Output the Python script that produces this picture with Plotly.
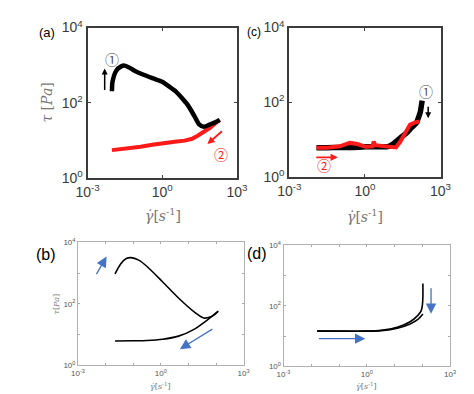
import plotly.graph_objects as go

# ---------------- data ----------------
# (a) experiment: ramp up (black) and ramp down (red)
a_up_rate = [0.00955, 0.01, 0.0141, 0.0224, 0.0309, 0.0501, 0.0741, 0.158, 0.427, 1.0, 1.86, 3.55, 6.03, 10, 14.5, 22.4, 30.2, 46.8, 83.2, 126, 204]
a_up_stress = [204, 355, 708, 933, 977, 851, 724, 575, 447, 363, 275, 200, 138, 93, 63, 38, 27, 23.4, 27, 30, 35.5]
a_down_rate = [0.00955, 0.0316, 0.135, 0.398, 1.05, 3.16, 7.94, 15.8, 26.3, 50.1, 83.2, 126, 204]
a_down_stress = [5.6, 6.0, 6.9, 7.8, 8.7, 9.3, 10, 11.2, 13.5, 17.4, 21.9, 27.5, 35.5]

# (c) experiment: ramp down from high rate (black) and ramp up (red)
c_down_rate = [186, 158, 126, 110, 70.8, 46.8, 28.2, 19.5, 12.6, 8.13, 3.16, 1.07, 0.316, 0.1, 0.0316, 0.012]
c_down_stress = [112, 56.2, 35.5, 28.2, 21.4, 15.8, 12.0, 9.77, 7.59, 6.61, 6.61, 6.53, 6.31, 6.31, 6.17, 6.17]
c_up_rate = [0.012, 0.0316, 0.1, 0.251, 0.501, 1.07, 2.0, 2.24, 2.57, 5.01, 8.13, 17.0, 25.1, 34.7, 61.7, 100, 148]
c_up_stress = [6.17, 6.17, 6.76, 8.32, 7.76, 6.53, 6.76, 9.12, 7.24, 6.92, 6.61, 6.31, 8.91, 12.9, 25.7, 29.5, 30.9]

# (b) model
b_up_rate = [0.0219, 0.0355, 0.0562, 0.0832, 0.158, 0.309, 1.17, 4.37, 16.6, 36.3, 61.7, 89.1, 120]
b_up_stress = [933, 1995, 2951, 3162, 2630, 1660, 513, 155, 53.7, 34.7, 37.2, 44.7, 57.5]
b_down_rate = [120, 47.9, 16.6, 4.37, 1.17, 0.309, 0.1, 0.0219]
b_down_stress = [57.5, 29.5, 15.1, 8.91, 7.08, 6.46, 6.31, 6.17]

# (d) model
d_1_rate = [0.0162, 0.1, 0.912, 3.39, 12.6, 36.3, 69.2, 91.2, 100, 105, 105]
d_1_stress = [14.5, 14.5, 14.5, 15.5, 19.5, 29.5, 47.9, 69.2, 100, 200, 537]
d_2_rate = [0.0162, 0.912, 3.39, 12.6, 36.3, 69.2, 105]
d_2_stress = [14.5, 14.5, 15.1, 18.2, 25.1, 35.5, 53.7]

x_tickvals = [0.001, 1, 1000]
x_ticktext = ["10<sup>-3</sup>", "10<sup>0</sup>", "10<sup>3</sup>"]
y_tickvals = [1, 100, 10000]
y_ticktext = ["10<sup>0</sup>", "10<sup>2</sup>", "10<sup>4</sup>"]

W, H = 474, 394
def px(x):
    return x / W
def py(y):
    return 1 - y / H

fig = go.Figure()

# traces
fig.add_trace(go.Scatter(x=a_down_rate, y=a_down_stress, mode="lines", line=dict(color="#ff1a1a", width=4), xaxis="x", yaxis="y"))
fig.add_trace(go.Scatter(x=a_up_rate, y=a_up_stress, mode="lines", line=dict(color="black", width=4.5, shape="spline", smoothing=0.6), xaxis="x", yaxis="y"))
fig.add_trace(go.Scatter(x=c_down_rate, y=c_down_stress, mode="lines", line=dict(color="black", width=5.5, shape="spline", smoothing=0.5), xaxis="x2", yaxis="y2"))
fig.add_trace(go.Scatter(x=c_up_rate, y=c_up_stress, mode="lines", line=dict(color="#ff1a1a", width=4), xaxis="x2", yaxis="y2"))
fig.add_trace(go.Scatter(x=b_up_rate, y=b_up_stress, mode="lines", line=dict(color="black", width=1.6, shape="spline", smoothing=0.8), xaxis="x3", yaxis="y3"))
fig.add_trace(go.Scatter(x=b_down_rate, y=b_down_stress, mode="lines", line=dict(color="black", width=1.6, shape="spline", smoothing=0.8), xaxis="x3", yaxis="y3"))
fig.add_trace(go.Scatter(x=d_1_rate, y=d_1_stress, mode="lines", line=dict(color="black", width=1.6, shape="spline", smoothing=0.6), xaxis="x4", yaxis="y4"))
fig.add_trace(go.Scatter(x=d_2_rate, y=d_2_stress, mode="lines", line=dict(color="black", width=1.6, shape="spline", smoothing=0.6), xaxis="x4", yaxis="y4"))

def big_x(domain, anchor):
    return dict(type="log", range=[-3, 3], domain=domain, anchor=anchor,
                tickvals=x_tickvals, ticktext=x_ticktext, ticks="inside", ticklen=3,
                showline=True, linecolor="#3c3c3c", linewidth=2, mirror="ticks",
                showgrid=False, zeroline=False,
                tickfont=dict(family="Liberation Sans", size=14, color="#3a3a3a"))

def big_y(domain, anchor):
    return dict(type="log", range=[0, 4], domain=domain, anchor=anchor,
                tickvals=y_tickvals, ticktext=y_ticktext, ticks="inside", ticklen=3,
                showline=True, linecolor="#3c3c3c", linewidth=2, mirror="ticks",
                showgrid=False, zeroline=False,
                tickfont=dict(family="Liberation Sans", size=14, color="#3a3a3a"))

small_xvals = [0.001, 0.01, 0.1, 1, 10, 100, 1000]
small_xtext = ["10<sup>-3</sup>", "", "", "10<sup>0</sup>", "", "", "10<sup>3</sup>"]
small_yvals = [1, 10, 100, 1000, 10000]
small_ytext = ["10<sup>0</sup>", "", "10<sup>2</sup>", "", "10<sup>4</sup>"]

def small_x(domain, anchor):
    return dict(type="log", range=[-3, 3], domain=domain, anchor=anchor,
                tickvals=small_xvals, ticktext=small_xtext, ticks="inside", ticklen=2,
                tickcolor="#aaaaaa",
                showline=True, linecolor="#b0b0b0", linewidth=1, mirror="ticks",
                showgrid=False, zeroline=False,
                tickfont=dict(family="Liberation Sans", size=8, color="#555555"))

def small_y(domain, anchor):
    return dict(type="log", range=[0, 4], domain=domain, anchor=anchor,
                tickvals=small_yvals, ticktext=small_ytext, ticks="inside", ticklen=2,
                tickcolor="#aaaaaa",
                showline=True, linecolor="#b0b0b0", linewidth=1, mirror="ticks",
                showgrid=False, zeroline=False,
                tickfont=dict(family="Liberation Sans", size=8, color="#555555"))

fig.update_layout(
    width=W, height=H, margin=dict(l=0, r=0, t=0, b=0),
    paper_bgcolor="white", plot_bgcolor="white", showlegend=False,
    xaxis=big_x([px(71), px(228)], "y"),
    yaxis=big_y([py(168), py(10)], "x"),
    xaxis2=big_x([px(283), px(442)], "y2"),
    yaxis2=big_y([py(167), py(10)], "x2"),
    xaxis3=small_x([px(61), px(235)], "y3"),
    yaxis3=small_y([py(364), py(235)], "x3"),
    xaxis4=small_x([px(277), px(452)], "y4"),
    yaxis4=small_y([py(365), py(238)], "x4"),
)

ann = []
def text(x, y, s, size, color="black", family="Liberation Sans", angle=0):
    ann.append(dict(x=px(x), y=py(y), xref="paper", yref="paper", text=s, showarrow=False,
                    font=dict(size=size, color=color, family=family), textangle=angle,
                    xanchor="center", yanchor="middle"))

def arrow(x0, y0, x1, y1, color, width, head=2, size=1.0):
    ann.append(dict(x=px(x1), y=py(y1), xref="paper", yref="paper", ax=x0 - x1, ay=y0 - y1,
                    axref="pixel", ayref="pixel", text="", showarrow=True,
                    arrowcolor=color, arrowwidth=width, arrowhead=head, arrowsize=size))

# panel labels
text(28, 15, "(a)", 13)
text(246, 15, "(c)", 12)
text(27, 248, "(b)", 16)
text(249, 247, "(d)", 16)

# axis titles
gd = "\u03b3\u0307"
serif = "DejaVu Serif"
text(150, 206, "<i>" + gd + "</i>[<i>s</i><sup>-1</sup>]", 14, "#777777", serif)
text(363, 207, "<i>" + gd + "</i>[<i>s</i><sup>-1</sup>]", 14, "#777777", serif)
text(28, 89, "<i>\u03c4</i> [<i>Pa</i>]", 14, "#777777", serif, -90)
text(148, 386, "<i>" + gd + "</i>[<i>s</i><sup>-1</sup>]", 8, "#777777", serif)
text(364, 386, "<i>" + gd + "</i>[<i>s</i><sup>-1</sup>]", 8, "#777777", serif)
text(38, 300, "<i>\u03c4</i>[<i>Pa</i>]", 8, "#777777", serif, -90)

# circled step numbers
text(97, 43, "\u2460", 14, "#555555", "Noto Sans CJK JP")
text(211, 143, "\u2461", 14, "#ff2020", "Noto Sans CJK JP")
text(427, 77, "\u2460", 14, "#555555", "Noto Sans CJK JP")
text(319, 154, "\u2461", 14, "#ff2020", "Noto Sans CJK JP")

# arrows
arrow(89, 76, 89, 53, "black", 1.5, 2, 0.8)
arrow(213, 118, 197, 132, "#ff1a1a", 1.8, 2, 0.8)
arrow(429, 92, 429, 105, "black", 1.5, 2, 0.8)
arrow(311, 146, 334, 146, "#ff1a1a", 1.8, 2, 0.8)
arrow(80, 269, 91, 250, "#4472c4", 1.3, 2, 1.6)
arrow(202, 326, 168, 347, "#4472c4", 1.3, 2, 1.6)
arrow(432, 283, 432, 310, "#4472c4", 1.3, 2, 1.6)
arrow(315, 336, 363, 336, "#4472c4", 1.3, 2, 1.6)

fig.update_layout(annotations=ann)
fig.write_html("out.html")
